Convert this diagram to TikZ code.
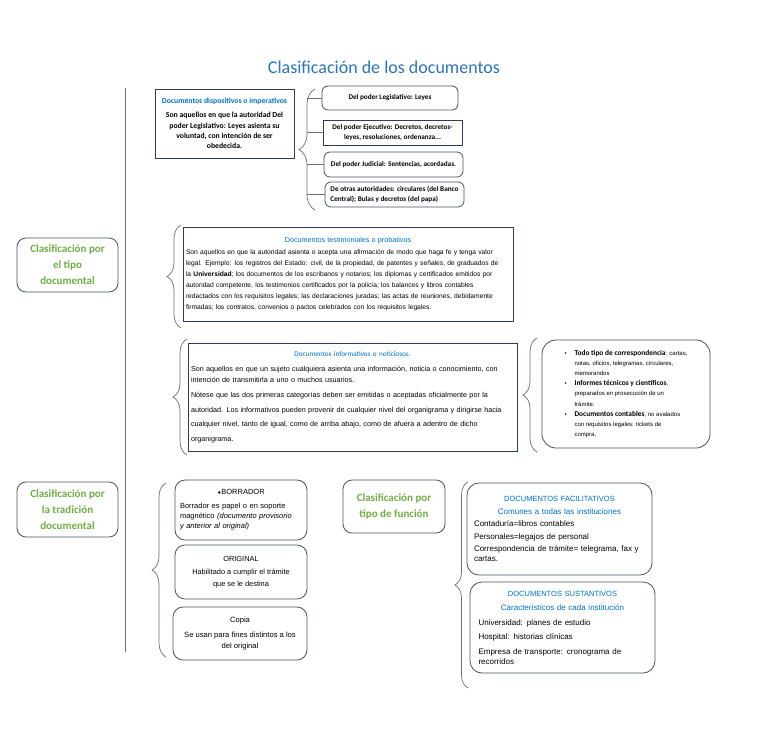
\documentclass[tikz,border=0pt]{standalone}
\usepackage{fontspec}
\setmainfont{Carlito}
\newfontfamily\arialfont{Liberation Sans}
\newfontfamily\symbolfont{DejaVu Sans}
\usetikzlibrary{decorations.pathreplacing}

\definecolor{titleblue}{RGB}{46,116,181}
\definecolor{headblue}{RGB}{0,112,192}
\definecolor{labelgreen}{RGB}{112,173,71}
\definecolor{boxgray}{RGB}{72,80,94}
\definecolor{boxnavy}{RGB}{44,62,92}
\definecolor{bracegray}{RGB}{110,110,110}

\newcommand{\calbold}[1]{{\rmfamily\bfseries\fontsize{7.4}{10.2}\selectfont #1}}
\newcommand{\midline}[1]{\makebox[\hsize][c]{#1}}

\begin{document}
\begin{tikzpicture}[x=1pt,y=-1pt,
    roundbox/.style={draw=boxgray,line width=0.8pt,rounded corners=6pt,inner sep=2pt},
    sharpbox/.style={draw=boxnavy,line width=0.9pt,inner sep=2pt},
    labelbox/.style={roundbox,rounded corners=9pt,text=labelgreen,align=center,
      font=\fontsize{11}{16}\selectfont\bfseries},
    topfont/.style={font=\fontsize{7.2}{9.5}\selectfont\bfseries},
    curly/.style={draw=bracegray,line width=0.7pt,decorate,decoration={brace,amplitude=#1}},
    link/.style={draw=bracegray,line width=0.7pt}]
  \fill[white] (0,0) rectangle (768,745);

  \node[text=titleblue,font=\fontsize{18}{21}\selectfont] (titulo) at (384,67) {Clasificación de los documentos};

  % left side
  \coordinate (lineTop) at (125,88);
  \coordinate (lineBot) at (125,652);
  \draw[link] (lineTop) -- (lineBot);
  \node[labelbox,minimum width=101pt,minimum height=54pt] (tipo) at (67.5,265) {Clasificación por\\el tipo\\documental};
  \node[labelbox,minimum width=101pt,minimum height=55pt] (tradicion) at (67.5,509.5) {Clasificación por\\la tradición\\documental};

  % dispositivos
  \node[sharpbox,minimum width=139pt,minimum height=69pt,align=center,
    font=\fontsize{7.7}{10.3}\selectfont\bfseries] (dispositivos) at (224.5,123.5)
    {{\color{headblue}Documentos dispositivos o imperativos}\\[4pt]
     Son aquellos en que la autoridad Del\\poder Legislativo: Leyes asienta su\\voluntad, con intención de ser\\obedecida.};

  \node[roundbox,topfont,minimum width=136pt,minimum height=24pt] (legislativo) at (390,98) {Del poder Legislativo: Leyes};
  \node[sharpbox,topfont,minimum width=139pt,minimum height=25pt,align=center] (ejecutivo) at (392.5,132.5)
    {Del poder Ejecutivo: Decretos, decretos-\\leyes, resoluciones, ordenanza...};
  \node[roundbox,topfont,minimum width=139pt,minimum height=25pt] (judicial) at (393.5,164.5) {Del poder Judicial: Sentencias, acordadas.};
  \node[roundbox,topfont,minimum width=139pt,minimum height=25pt,align=left] (otras) at (394.5,194.5)
    {De otras autoridades: circulares (del Banco\\Central); Bulas y decretos (del papa)};

  \draw[curly=16] (315,210) -- (315,89);
  \coordinate (spineA) at (307,150);
  \foreach \n in {legislativo,ejecutivo,judicial,otras}
    \draw[link] (spineA |- \n.west) -- (\n.west);

  % testimoniales
  \draw[curly=14] (181,328) -- (181,225);
  \node[sharpbox,minimum width=330pt,minimum height=94pt,text width=324pt,align=left,
    font=\arialfont\fontsize{6.7}{11}\selectfont] (testimoniales) at (348,274)
    {\midline{\color{headblue}\fontsize{7.2}{8}\selectfont Documentos testimoniales o probativos}\\[1pt]
     Son aquellos en que la autoridad asienta o acepta una afirmación de modo que haga fe y tenga valor\\
     legal. Ejemplo: los registros del Estado: civil, de la propiedad, de patentes y señales, de graduados de\\
     la \textbf{Universidad}; los documentos de los escribanos y notarios; los diplomas y certificados emitidos por\\
     autoridad competente, los testimonios certificados por la policía; los balances y libros contables\\
     redactados con los requisitos legales; las declaraciones juradas; las actas de reuniones, debidamente\\
     firmadas; los contratos, convenios o pactos celebrados con los requisitos legales.};

  % informativos
  \draw[curly=14] (187,455) -- (187,339);
  \node[sharpbox,minimum width=329pt,minimum height=108pt,text width=323pt,align=left,
    font=\arialfont\fontsize{7.2}{11}\selectfont] (informativos) at (352.5,397)
    {\midline{\rmfamily\color{headblue}\fontsize{7.2}{8}\selectfont Documentos informativos o noticiosos.}\\[4pt]
     Son aquellos en que un sujeto cualquiera asienta una información, noticia o conocimiento, con\\
     intención de transmitirla a uno o muchos usuarios.\\[4pt]
     Nótese que las dos primeras categorías deben ser emitidas o aceptadas oficialmente por la\\[3.5pt]
     autoridad. Los informativos pueden provenir de cualquier nivel del organigrama y dirigirse hacia\\[3.5pt]
     cualquier nivel, tanto de igual, como de arriba abajo, como de afuera a adentro de dicho\\[3.5pt]
     organigrama.};

  \draw[curly=14] (537,452) -- (537,338);
  \node[roundbox,rounded corners=14pt,minimum width=168pt,minimum height=108pt,align=left,
    font=\arialfont\fontsize{6}{10.2}\selectfont] (ejemplos) at (626,394)
    {\makebox[10pt][l]{\textbullet}\calbold{Todo tipo de correspondencia}: cartas,\\
     \hspace*{10pt}notas, oficios, telegramas, circulares,\\
     \hspace*{10pt}memorandos\\
     \makebox[10pt][l]{\textbullet}\calbold{Informes técnicos y científicos},\\
     \hspace*{10pt}preparados en prosecución de un\\
     \hspace*{10pt}trámite.\\
     \makebox[10pt][l]{\textbullet}\calbold{Documentos contables}, no avalados\\
     \hspace*{10pt}con requisitos legales: tickets de\\
     \hspace*{10pt}compra,};

  % tradicion documental
  \draw[curly=14] (166,657) -- (166,483);
  \node[roundbox,rounded corners=10pt,minimum width=132pt,minimum height=60pt,text width=122pt,align=left,
    font=\arialfont\fontsize{7.5}{10}\selectfont] (borrador) at (241,510)
    {\midline{{\symbolfont\fontsize{4.5}{5}\selectfont ♦}BORRADOR}\\[4pt]
     Borrador es papel o en soporte\\magnético \textit{(documento provisorio}\\\textit{y anterior al original)}};
  \node[roundbox,rounded corners=10pt,minimum width=132pt,minimum height=54pt,align=center,
    font=\arialfont\fontsize{7.4}{11.5}\selectfont] (original) at (241,572)
    {ORIGINAL\\[2pt]Habilitado a cumplir el trámite\\que se le destina};
  \node[roundbox,rounded corners=10pt,minimum width=134pt,minimum height=53pt,align=center,
    font=\arialfont\fontsize{7.6}{11}\selectfont] (copia) at (240,633.5)
    {Copia\\[4pt]Se usan para fines distintos a los\\del original};

  % funcion
  \node[labelbox,minimum width=102pt,minimum height=53pt] (funcion) at (394,506.5) {Clasificación por\\tipo de función};

  \draw[curly=13] (468,688) -- (468,482);
  \node[roundbox,rounded corners=12pt,minimum width=185pt,minimum height=92pt,text width=171pt,align=left,
    font=\arialfont\fontsize{8}{10}\selectfont] (facilitativos) at (559.5,529)
    {\midline{\color{headblue}\fontsize{7.5}{8}\selectfont DOCUMENTOS FACILITATIVOS}\\[2.5pt]
     \midline{\color{headblue}Comunes a todas las instituciones}\\[2.5pt]
     Contaduría=libros contables\\[2.5pt]
     Personales=legajos de personal\\[2.5pt]
     Correspondencia de trámite= telegrama, fax y\\
     cartas.};
  \node[roundbox,rounded corners=12pt,minimum width=185pt,minimum height=91pt,text width=168pt,align=left,
    font=\arialfont\fontsize{8}{10}\selectfont] (sustantivos) at (562.5,627.5)
    {\midline{\color{headblue}\fontsize{7.5}{8}\selectfont DOCUMENTOS SUSTANTIVOS}\\[4.5pt]
     \midline{\color{headblue}Característicos de cada institución}\\[4.5pt]
     Universidad: planes de estudio\\[4.5pt]
     Hospital: historias clínicas\\[4.5pt]
     Empresa de transporte: cronograma de\\
     recorridos};
\end{tikzpicture}
\end{document}
